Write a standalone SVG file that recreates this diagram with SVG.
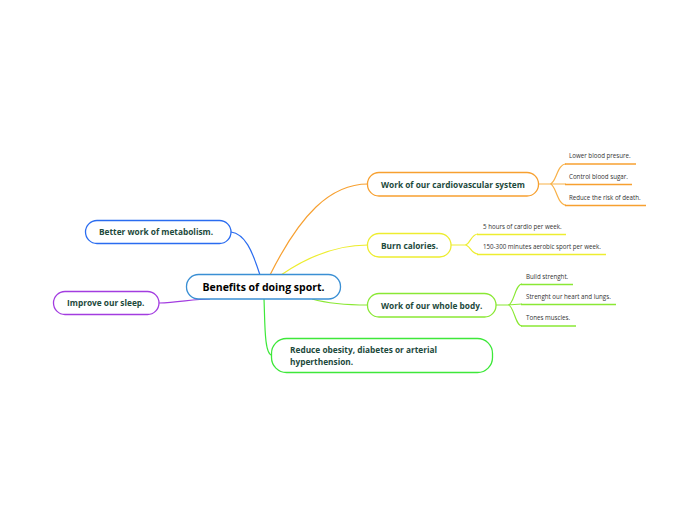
<svg xmlns="http://www.w3.org/2000/svg" width="697" height="520" viewBox="0 0 697 520">
<style>
.node{fill:#fff;stroke-width:1.3}
.t{font-family:"Open Sans","Noto Sans","Liberation Sans",sans-serif;font-weight:bold;fill:#1d4a3c;font-size:8.3px}
.c{fill:#000;font-size:10.5px}
.leaf{font-family:"Open Sans","Noto Sans","Liberation Sans",sans-serif;font-size:6.2px;fill:#333}
.ln{fill:none;stroke-width:1.2}
.ul{stroke-width:1.3}
</style>
<rect width="697" height="520" fill="#fff"/>
<g id="connectors">
<path class="ln" stroke="#2a6cf0" d="M231,232 C245,234 252,250 260,275"/>
<path class="ln" stroke="#a33ce0" d="M159,303 C180,302 195,299 210,299"/>
<path class="ln" stroke="#f7a030" d="M270,275 C300,215 330,184 368,184"/>
<path class="ln" stroke="#eded30" d="M281,275 C310,255 340,245 368,245"/>
<path class="ln" stroke="#8ae834" d="M312,299 C330,304 350,305 368,305"/>
<path class="ln" stroke="#3ee83a" d="M264,299 C265,320 264,355 272,355"/>
<path class="ln" stroke="#f8b148" d="M538,184 L550,184 C556,184 557,164 566,164 M550,184 C556,184 557,184 566,184 M550,184 C556,184 557,205 566,205"/>
<path class="ln" stroke="#eded30" d="M451,245 L465,245 C470,245 471,234 478,234 M465,245 C470,245 471,254 478,254"/>
<path class="ln" stroke="#8ae834" d="M496,305 L508,305 C514,305 515,284 522,284 M508,305 C514,305 515,304 522,304 M508,305 C514,305 515,326 522,326"/>
</g>
<g id="central">
<rect class="node" x="186.5" y="274.5" width="154" height="24.5" rx="12" stroke="#3a8fd4"/>
<text class="t c" x="263.5" y="291" text-anchor="middle">Benefits of doing sport.</text>
</g>
<g id="cardio">
<rect class="node" x="367.5" y="172.5" width="171" height="23.5" rx="11.5" stroke="#f7a030"/>
<text class="t" x="381" y="187.5">Work of our cardiovascular system</text>
</g>
<g id="cardio-leaves">
<text class="leaf" x="569" y="158">Lower blood presure.</text>
<line class="ul" stroke="#f7a030" x1="565" y1="164" x2="636" y2="164"/>
<text class="leaf" x="569" y="179">Control blood sugar.</text>
<line class="ul" stroke="#f7a030" x1="565" y1="184.5" x2="632" y2="184.5"/>
<text class="leaf" x="569" y="200">Reduce the risk of death.</text>
<line class="ul" stroke="#f7a030" x1="565" y1="205.5" x2="646" y2="205.5"/>
</g>
<g id="burn">
<rect class="node" x="367.5" y="233.5" width="83.5" height="23.5" rx="11.5" stroke="#eded30"/>
<text class="t" x="381" y="248.5">Burn calories.</text>
</g>
<g id="burn-leaves">
<text class="leaf" x="483" y="229">5 hours of cardio per week.</text>
<line class="ul" stroke="#eded30" x1="477" y1="234.5" x2="566" y2="234.5"/>
<text class="leaf" x="483" y="249">150-300 minutes aerobic sport per week.</text>
<line class="ul" stroke="#eded30" x1="477" y1="254.5" x2="606" y2="254.5"/>
</g>
<g id="body">
<rect class="node" x="367.5" y="293.5" width="128.5" height="23.5" rx="11.5" stroke="#8ae834"/>
<text class="t" x="381" y="308.5">Work of our whole body.</text>
</g>
<g id="body-leaves">
<text class="leaf" x="526" y="279">Build strenght.</text>
<line class="ul" stroke="#8ae834" x1="521" y1="284.5" x2="573" y2="284.5"/>
<text class="leaf" x="526" y="299">Strenght our heart and lungs.</text>
<line class="ul" stroke="#8ae834" x1="521" y1="304.5" x2="616" y2="304.5"/>
<text class="leaf" x="526" y="320">Tones muscles.</text>
<line class="ul" stroke="#8ae834" x1="521" y1="326" x2="576" y2="326"/>
</g>
<g id="obesity">
<rect class="node" x="271.5" y="338.5" width="221" height="34" rx="15" stroke="#3ee83a"/>
<text class="t" x="290" y="353">Reduce obesity, diabetes or arterial</text>
<text class="t" x="290" y="364.5">hyperthension.</text>
</g>
<g id="metabolism">
<rect class="node" x="85.5" y="220.5" width="145.5" height="23" rx="11.5" stroke="#2a6cf0"/>
<text class="t" x="99" y="235">Better work of metabolism.</text>
</g>
<g id="sleep">
<rect class="node" x="53.5" y="291.5" width="105.5" height="23" rx="11.5" stroke="#a33ce0"/>
<text class="t" x="67" y="306">Improve our sleep.</text>
</g>
</svg>
